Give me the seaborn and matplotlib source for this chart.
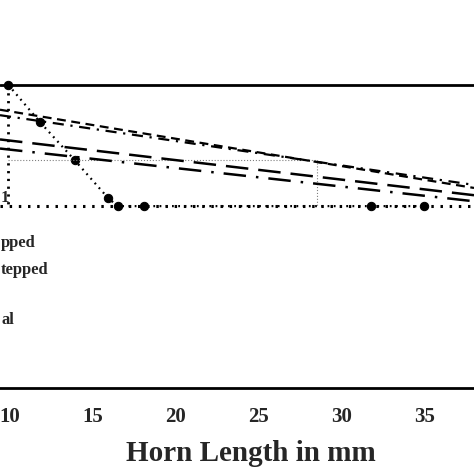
import numpy as np
import pandas as pd
import seaborn as sns
import matplotlib.pyplot as plt

# values (x in mm, y in arbitrary diameter units)
stepped_x = [9.9, 11.8, 13.9, 15.9, 16.5, 18.1, 31.8, 35.0]
stepped_y = [50.0, 43.9, 37.6, 31.4, 30.0, 30.0, 30.0, 30.0]
line_x = [9.4, 38.0]
exp_short_y = [45.9, 33.0]
exp_dashdot_y = [45.0, 33.5]
conical_y = [41.0, 31.8]
other_y = [39.5, 30.8]
top_y = [50.0, 50.0]
base_y = [30.0, 30.0]
# only the visible tails of the legend labels (the rest is cropped in the reference)
legend_labels = ["pped", "tepped", "al"]

sns.set_style("white")
plt.rcParams["font.family"] = ["Liberation Serif", "DejaVu Serif"]

fig = plt.figure(figsize=(4.74, 4.74), dpi=100)
ax = fig.add_axes([0, 1 - 388 / 474, 1, 388 / 474])

sns.lineplot(x=line_x, y=top_y, ax=ax, color="black", lw=2)
sns.lineplot(x=line_x, y=base_y, ax=ax, color="black", lw=2.2, ls=(0, (0.8, 2.2)))
sns.lineplot(x=stepped_x, y=stepped_y, ax=ax, color="black", lw=1.6, ls=(0, (0.8, 2)),
             marker="o", markersize=6, markeredgecolor="black")
ax.plot([9.9, 9.9], [50, 30], color="black", lw=2, ls=(0, (0.8, 2)))
ax.plot([9.9, 28.5], [37.6, 37.6], color="gray", lw=0.8, ls=":")
ax.plot([28.5, 28.5], [37.6, 30], color="gray", lw=0.8, ls=":")
sns.lineplot(x=line_x, y=exp_short_y, ax=ax, color="black", lw=1.6, ls=(0, (4, 2.5)))
sns.lineplot(x=line_x, y=exp_dashdot_y, ax=ax, color="black", lw=1.6, ls=(0, (5, 3, 1, 3)))
sns.lineplot(x=line_x, y=conical_y, ax=ax, color="black", lw=1.8, ls=(0, (9, 4)))
sns.lineplot(x=line_x, y=other_y, ax=ax, color="black", lw=1.8, ls=(0, (9, 4, 1, 4)))

ax.set_xlim(9.4, 38)
ax.set_ylim(0, 64)
ax.set_xticks([10, 15, 20, 25, 30, 35])
ax.set_yticks([])
ax.tick_params(axis="x", length=0, pad=14, labelsize=15)
for t in ax.get_xticklabels():
    t.set_fontweight("bold")
for s in ["top", "right", "left"]:
    ax.spines[s].set_visible(False)
ax.spines["bottom"].set_linewidth(2)
ax.spines["bottom"].set_color("black")
ax.set_xlabel("Horn Length in mm", fontsize=21, fontweight="bold")
ax.xaxis.set_label_coords(0.53, -0.135)

ax.text(1 / 474, 64 - 243 / 6.06, legend_labels[0], ha="left", va="center",
        fontsize=12, fontweight="bold", transform=ax.get_yaxis_transform())
ax.text(1 / 474, 64 - 270 / 6.06, legend_labels[1], ha="left", va="center",
        fontsize=12, fontweight="bold", transform=ax.get_yaxis_transform())
ax.text(1 / 474, 64 - 320 / 6.06, legend_labels[2], ha="left", va="center",
        fontsize=12, fontweight="bold", transform=ax.get_yaxis_transform())
ax.text(1 / 474, 64 - 198 / 6.06, "1", ha="left", va="center",
        fontsize=12, fontweight="bold", transform=ax.get_yaxis_transform())

fig.savefig("out.png", dpi=100)
